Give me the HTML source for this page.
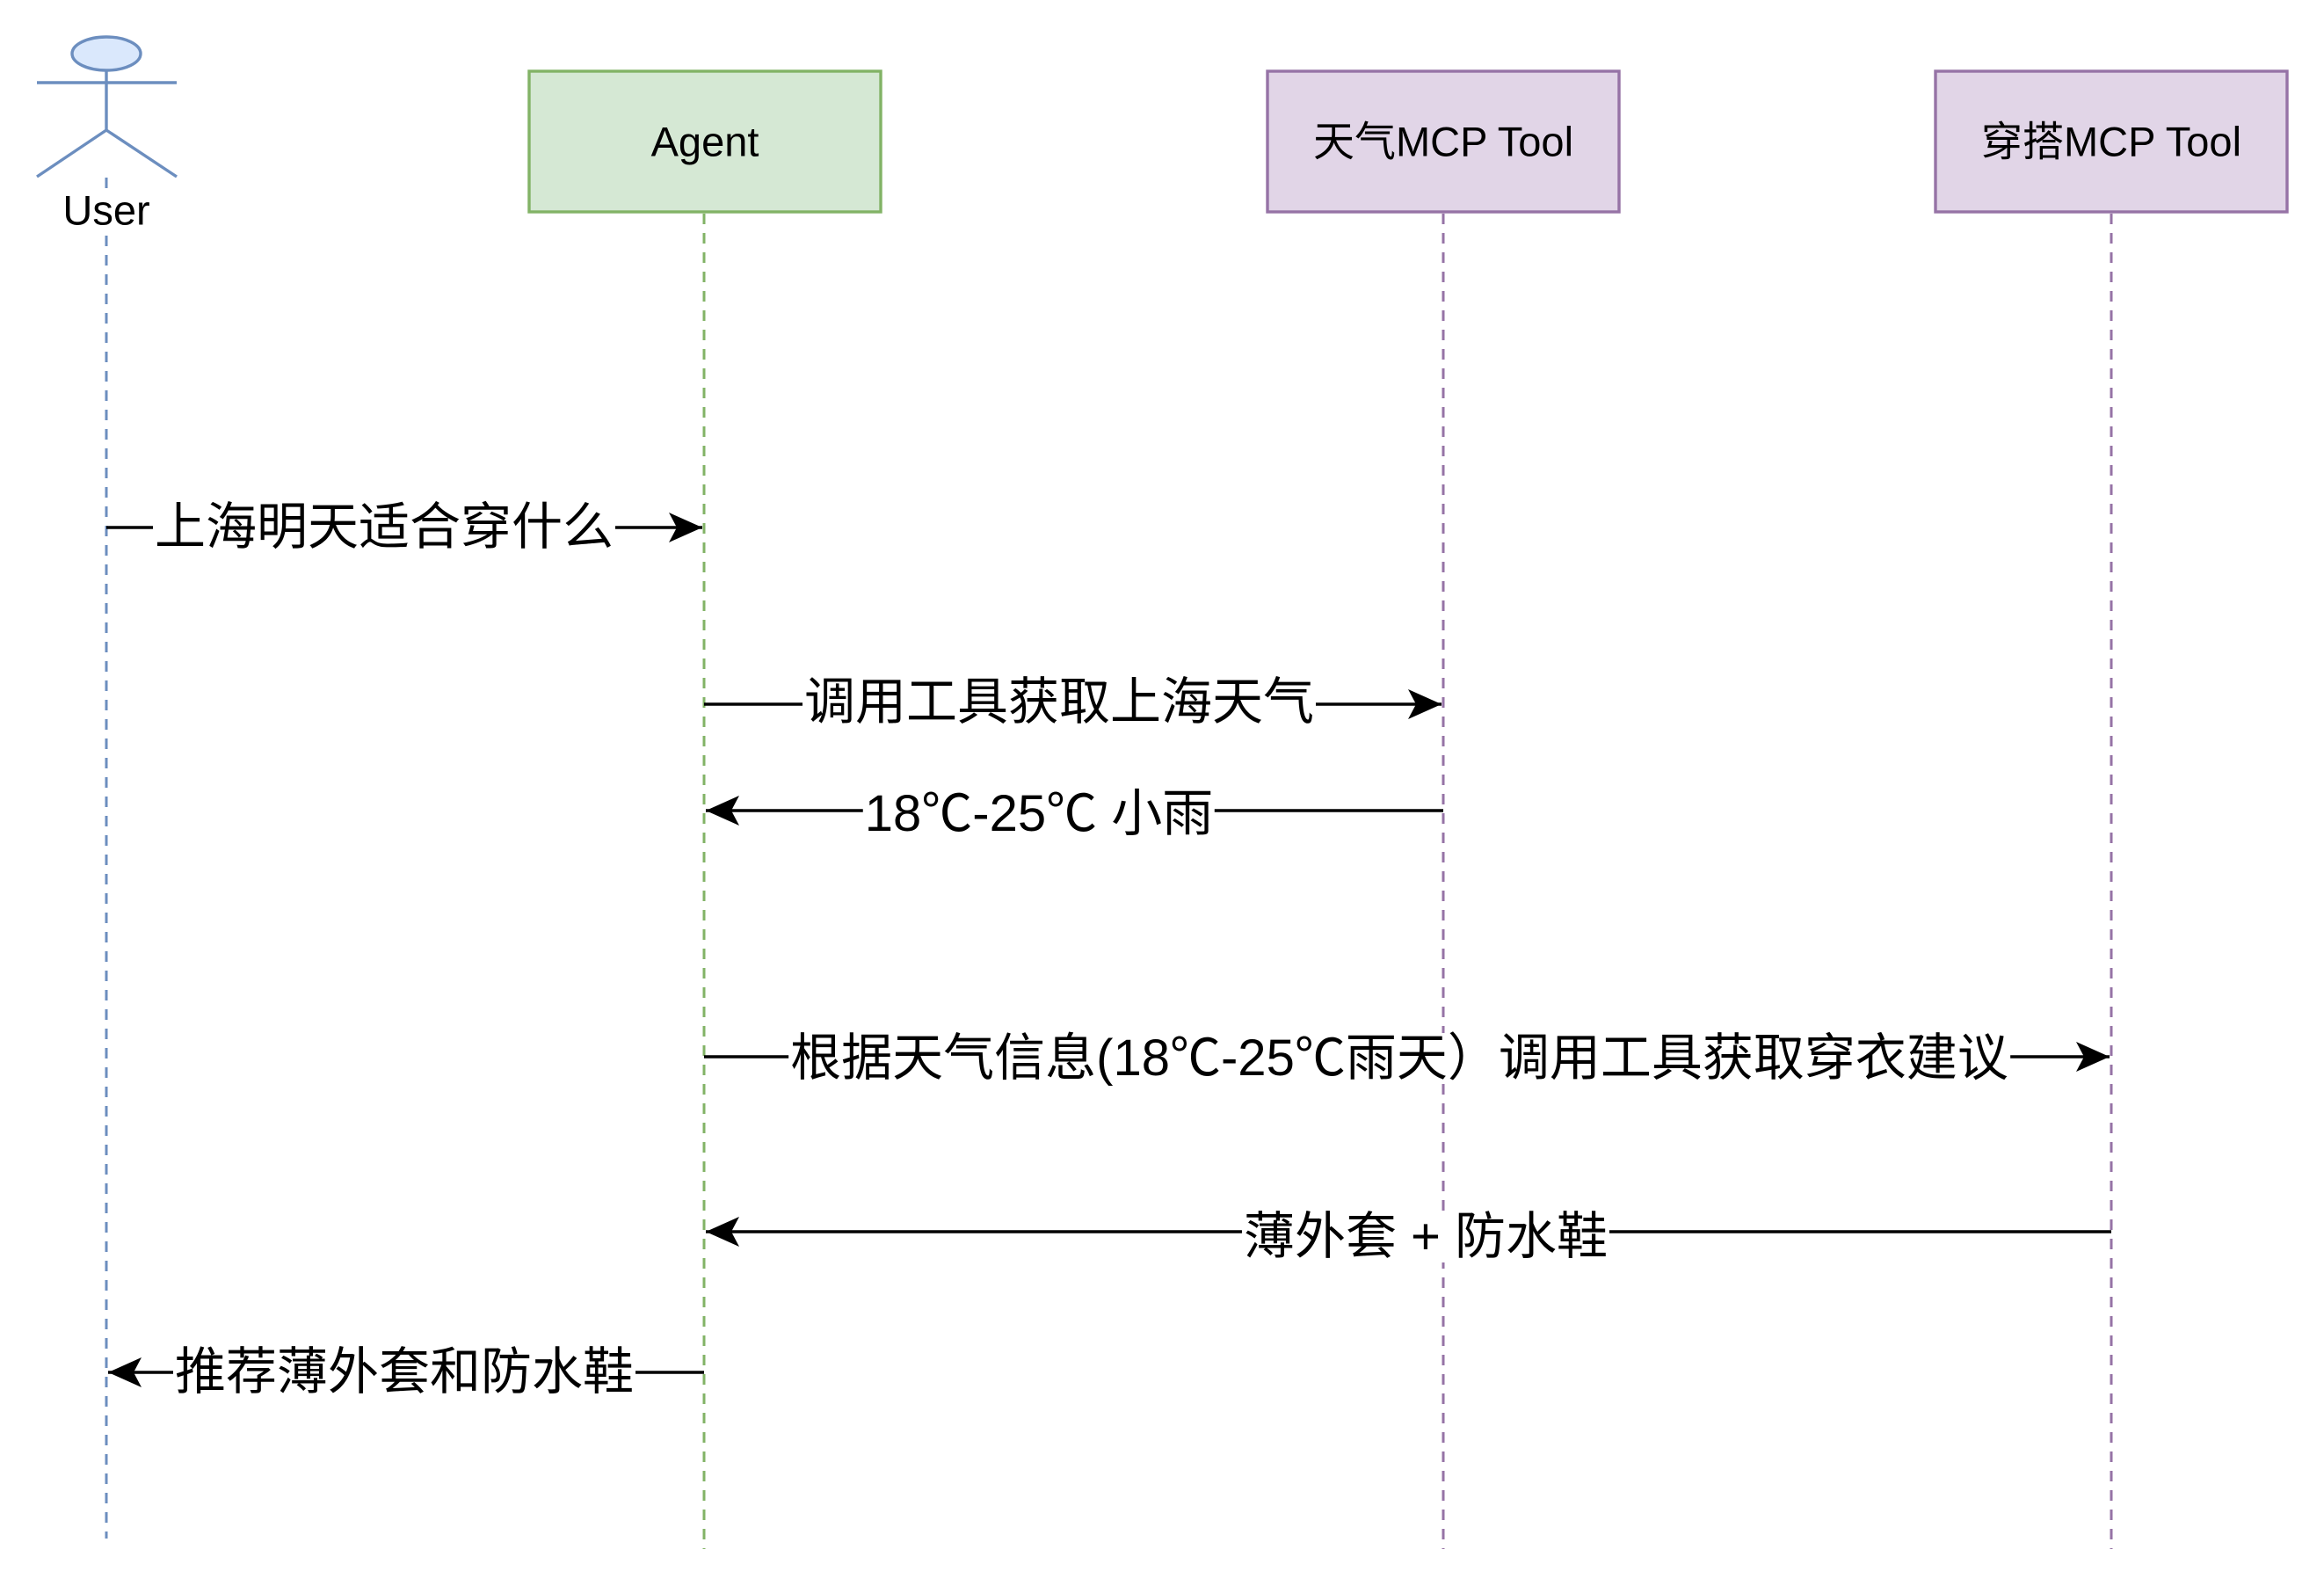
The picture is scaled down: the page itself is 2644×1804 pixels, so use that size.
<!DOCTYPE html>
<html><head><meta charset="utf-8"><style>
html,body{margin:0;padding:0;background:#fff;}
#c{position:relative;width:2644px;height:1804px;overflow:hidden;font-family:"Liberation Sans","Noto Sans CJK SC",sans-serif;}
.l{position:absolute;transform:translate(-50%,-50%);background:#fff;font-size:58px;line-height:1;white-space:nowrap;color:#000;padding:0 2px;}
.b{position:absolute;transform:translate(-50%,-50%);font-size:47px;line-height:1;white-space:nowrap;color:#000;}
</style></head><body><div id="c">
<svg width="2644" height="1804" style="position:absolute;left:0;top:0">
<defs><marker id="a" markerWidth="10" markerHeight="10" refX="9" refY="5" orient="auto" markerUnits="userSpaceOnUse" viewBox="0 0 10 10"><path d="M0,0 L10,5 L0,10 L2.5,5 z" fill="#000"/></marker>
<marker id="ah" markerWidth="42" markerHeight="42" refX="40" refY="21" orient="auto" markerUnits="userSpaceOnUse"><path d="M2,4 L40,21 L2,38 L11,21 z" fill="#000"/></marker></defs>
<!-- actor -->
<g stroke="#6c8ebf" stroke-width="3.4" fill="none">
<ellipse cx="121" cy="61" rx="39" ry="19" fill="#dae8fc"/>
<line x1="121" y1="80" x2="121" y2="148"/>
<line x1="42" y1="94" x2="201" y2="94"/>
<line x1="121" y1="148" x2="42" y2="201"/>
<line x1="121" y1="148" x2="201" y2="201"/>
<line x1="121" y1="202" x2="121" y2="1750" stroke-dasharray="12 10" stroke-width="3"/>
</g>
<rect x="602" y="81" width="400" height="160" fill="#d5e8d4" stroke="#82b366" stroke-width="3.4"/>
<rect x="1442" y="81" width="400" height="160" fill="#e1d5e7" stroke="#9673a6" stroke-width="3.4"/>
<rect x="2202" y="81" width="400" height="160" fill="#e1d5e7" stroke="#9673a6" stroke-width="3.4"/>
<line x1="801" y1="243" x2="801" y2="1762" stroke="#82b366" stroke-width="3" stroke-dasharray="12 10"/>
<line x1="1642" y1="243" x2="1642" y2="1762" stroke="#9673a6" stroke-width="3" stroke-dasharray="12 10"/>
<line x1="2402" y1="243" x2="2402" y2="1762" stroke="#9673a6" stroke-width="3" stroke-dasharray="12 10"/>
<g stroke="#000" stroke-width="3.4" fill="none">
<line x1="121" y1="600" x2="799" y2="600" marker-end="url(#ah)"/>
<line x1="801" y1="801" x2="1640" y2="801" marker-end="url(#ah)"/>
<line x1="1642" y1="922" x2="803" y2="922" marker-end="url(#ah)"/>
<line x1="801" y1="1202" x2="2400" y2="1202" marker-end="url(#ah)"/>
<line x1="2402" y1="1401" x2="803" y2="1401" marker-end="url(#ah)"/>
<line x1="801" y1="1561" x2="123" y2="1561" marker-end="url(#ah)"/>
</g>
</svg>
<div class="b" style="left:121px;top:239px;background:#fff">User</div>
<div class="b" style="left:802px;top:161px">Agent</div>
<div class="b" style="left:1642px;top:161px">天气MCP Tool</div>
<div class="b" style="left:2402px;top:161px">穿搭MCP Tool</div>
<div class="l" style="left:437px;top:600px">上海明天适合穿什么</div>
<div class="l" style="left:1205px;top:799px">调用工具获取上海天气</div>
<div class="l" style="left:1182px;top:926px">18℃-25℃ 小雨</div>
<div class="l" style="left:1592px;top:1204px">根据天气信息(18℃-25℃雨天）调用工具获取穿衣建议</div>
<div class="l" style="left:1622px;top:1407px">薄外套 + 防水鞋</div>
<div class="l" style="left:460px;top:1561px">推荐薄外套和防水鞋</div>
</div></body></html>
